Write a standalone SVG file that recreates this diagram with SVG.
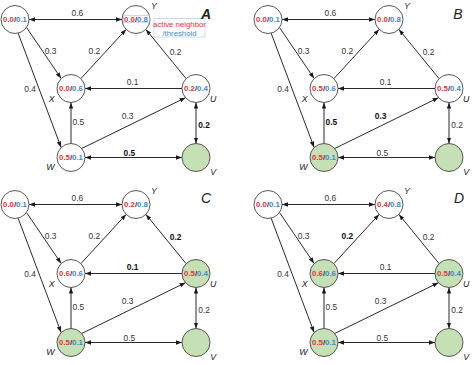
<svg xmlns="http://www.w3.org/2000/svg" width="474" height="365" viewBox="0 0 474 365">
<style>
  .bg{fill:#fff}
  .n{fill:#fff;stroke:#444;stroke-width:0.9}
  .g{fill:#c5e0b4;stroke:#444;stroke-width:0.9}
  .v{font-family:"Liberation Sans",Arial,sans-serif;font-size:7.8px;font-weight:bold;text-anchor:middle;fill:#333}
  .r{fill:#e8303a}
  .b{fill:#3f86c6}
  .e{stroke:#2a2a2a;stroke-width:1;fill:none;marker-end:url(#ah)}
  .e2{stroke:#2a2a2a;stroke-width:1;fill:none;marker-end:url(#ah);marker-start:url(#ah)}
  .w{font-family:"Liberation Sans",Arial,sans-serif;font-size:8.4px;text-anchor:middle;fill:#333}
  .wb{font-weight:bold;fill:#111}
  .lab{font-family:"Liberation Sans",Arial,sans-serif;font-size:8.8px;font-style:italic;text-anchor:middle;fill:#222}
  .pl{font-family:"Liberation Sans",Arial,sans-serif;font-size:14px;font-style:italic;text-anchor:middle;fill:#222}
  .leg{font-family:"Liberation Sans",Arial,sans-serif;font-size:7.8px;text-anchor:middle}
</style>
<defs>
  <marker id="ah" viewBox="0 0 6 4.4" refX="6" refY="2.2" markerWidth="6" markerHeight="4.4" markerUnits="userSpaceOnUse" orient="auto-start-reverse">
    <path d="M0,0 L6,2.2 L0,4.4 z" fill="#1a1a1a"/>
  </marker>
</defs>
<rect class="bg" x="0" y="0" width="474" height="365"/>

<!-- Panel A -->
<g id="panelA">
  <g id="A-edges">
    <path class="e2" d="M29,19.5 H122"/>
    <path class="e" d="M26.5,27.5 L61.1,78.4"/>
    <path class="e" d="M18.1,33.1 L61.1,147.4"/>
    <path class="e" d="M80.9,78.6 L126.1,29.4"/>
    <path class="e" d="M186.1,78.6 L145.9,29.4"/>
    <path class="e" d="M182,88.5 H85"/>
    <path class="e" d="M71,143.5 V102.5"/>
    <path class="e" d="M81.7,148.5 L185.5,97.7"/>
    <path class="e2" d="M196,102.5 V143.5"/>
    <path class="e2" d="M85,157.5 H182"/>
    <text class="w" x="77.3" y="16.3">0.6</text>
    <text class="w" x="50.7" y="53.7">0.3</text>
    <text class="w" x="30" y="92.3">0.4</text>
    <text class="w" x="94.3" y="53.7">0.2</text>
    <text class="w" x="175.7" y="54.7">0.2</text>
    <text class="w" x="132.7" y="84.7">0.1</text>
    <text class="w" x="78.3" y="124.7">0.5</text>
    <text class="w" x="127.7" y="119">0.3</text>
    <text class="w wb" x="204" y="128">0.2</text>
    <text class="w wb" x="129.3" y="155.7">0.5</text>
  </g>
  <g id="A-Z"><circle class="n" cx="15" cy="19.5" r="14"/><text class="v" x="15" y="22.3"><tspan class="r">0.0</tspan>/<tspan class="b">0.1</tspan></text></g>
  <g id="A-Y"><circle class="n" cx="136" cy="19.5" r="14"/><text class="v" x="136" y="22.3"><tspan class="r">0.0</tspan>/<tspan class="b">0.8</tspan></text><text class="lab" x="154" y="9">Y</text></g>
  <g id="A-X"><circle class="n" cx="71" cy="88.5" r="14"/><text class="v" x="71" y="91.3"><tspan class="r">0.0</tspan>/<tspan class="b">0.6</tspan></text><text class="lab" x="51.7" y="102">X</text></g>
  <g id="A-U"><circle class="n" cx="196" cy="88.5" r="14"/><text class="v" x="196" y="91.3"><tspan class="r">0.2</tspan>/<tspan class="b">0.4</tspan></text><text class="lab" x="213.3" y="102">U</text></g>
  <g id="A-W"><circle class="n" cx="71" cy="157.5" r="14"/><text class="v" x="71" y="160.3"><tspan class="r">0.5</tspan>/<tspan class="b">0.1</tspan></text><text class="lab" x="50.5" y="170">W</text></g>
  <g id="A-V"><circle class="g" cx="196" cy="157.5" r="14"/><text class="lab" x="213.3" y="174.5">V</text></g>
  <g id="A-legend">
    <rect x="123.3" y="15.5" width="26" height="7" fill="none" stroke="#a8c2e6" stroke-width="0.6"/>
    <rect x="154" y="18.5" width="51" height="18.5" fill="none" stroke="#a8c2e6" stroke-width="0.6"/>
    <text class="leg r" x="179.5" y="26.5">active neighbor</text>
    <text class="leg b" x="179.5" y="35.5">/threshold</text>
  </g>
  <text class="pl" x="206" y="19" font-weight="bold">A</text>
</g>

<!-- Panel B -->
<g id="panelB" transform="translate(253,0)">
  <g id="B-edges">
    <path class="e2" d="M29,19.5 H122"/>
    <path class="e" d="M26.5,27.5 L61.1,78.4"/>
    <path class="e" d="M18.1,33.1 L61.1,147.4"/>
    <path class="e" d="M80.9,78.6 L126.1,29.4"/>
    <path class="e" d="M186.1,78.6 L145.9,29.4"/>
    <path class="e" d="M182,88.5 H85"/>
    <path class="e" d="M71,143.5 V102.5"/>
    <path class="e" d="M81.7,148.5 L185.5,97.7"/>
    <path class="e2" d="M196,102.5 V143.5"/>
    <path class="e2" d="M85,157.5 H182"/>
    <text class="w" x="77.3" y="16.3">0.6</text>
    <text class="w" x="50.7" y="53.7">0.3</text>
    <text class="w" x="30" y="92.3">0.4</text>
    <text class="w" x="94.3" y="53.7">0.2</text>
    <text class="w" x="175.7" y="54.7">0.2</text>
    <text class="w" x="132.7" y="84.7">0.1</text>
    <text class="w wb" x="78.3" y="124.7">0.5</text>
    <text class="w wb" x="127.7" y="119">0.3</text>
    <text class="w" x="204" y="128">0.2</text>
    <text class="w" x="129.3" y="155.7">0.5</text>
  </g>
  <g id="B-Z"><circle class="n" cx="15" cy="19.5" r="14"/><text class="v" x="15" y="22.3"><tspan class="r">0.0</tspan>/<tspan class="b">0.1</tspan></text></g>
  <g id="B-Y"><circle class="n" cx="136" cy="19.5" r="14"/><text class="v" x="136" y="22.3"><tspan class="r">0.0</tspan>/<tspan class="b">0.8</tspan></text><text class="lab" x="154" y="9">Y</text></g>
  <g id="B-X"><circle class="n" cx="71" cy="88.5" r="14"/><text class="v" x="71" y="91.3"><tspan class="r">0.5</tspan>/<tspan class="b">0.6</tspan></text><text class="lab" x="51.7" y="102">X</text></g>
  <g id="B-U"><circle class="n" cx="196" cy="88.5" r="14"/><text class="v" x="196" y="91.3"><tspan class="r">0.5</tspan>/<tspan class="b">0.4</tspan></text><text class="lab" x="213.3" y="102">U</text></g>
  <g id="B-W"><circle class="g" cx="71" cy="157.5" r="14"/><text class="v" x="71" y="160.3"><tspan class="r">0.5</tspan>/<tspan class="b">0.1</tspan></text><text class="lab" x="50.5" y="170">W</text></g>
  <g id="B-V"><circle class="g" cx="196" cy="157.5" r="14"/><text class="lab" x="213.3" y="174.5">V</text></g>
  <text class="pl" x="205" y="19">B</text>
</g>

<!-- Panel C -->
<g id="panelC" transform="translate(0,185)">
  <g id="C-edges">
    <path class="e2" d="M29,19.5 H122"/>
    <path class="e" d="M26.5,27.5 L61.1,78.4"/>
    <path class="e" d="M18.1,33.1 L61.1,147.4"/>
    <path class="e" d="M80.9,78.6 L126.1,29.4"/>
    <path class="e" d="M186.1,78.6 L145.9,29.4"/>
    <path class="e" d="M182,88.5 H85"/>
    <path class="e" d="M71,143.5 V102.5"/>
    <path class="e" d="M81.7,148.5 L185.5,97.7"/>
    <path class="e2" d="M196,102.5 V143.5"/>
    <path class="e2" d="M85,157.5 H182"/>
    <text class="w" x="77.3" y="16.3">0.6</text>
    <text class="w" x="50.7" y="53.7">0.3</text>
    <text class="w" x="30" y="92.3">0.4</text>
    <text class="w" x="94.3" y="53.7">0.2</text>
    <text class="w wb" x="175.7" y="54.7">0.2</text>
    <text class="w wb" x="132.7" y="84.7">0.1</text>
    <text class="w" x="78.3" y="124.7">0.5</text>
    <text class="w" x="127.7" y="119">0.3</text>
    <text class="w" x="204" y="128">0.2</text>
    <text class="w" x="129.3" y="155.7">0.5</text>
  </g>
  <g id="C-Z"><circle class="n" cx="15" cy="19.5" r="14"/><text class="v" x="15" y="22.3"><tspan class="r">0.0</tspan>/<tspan class="b">0.1</tspan></text></g>
  <g id="C-Y"><circle class="n" cx="136" cy="19.5" r="14"/><text class="v" x="136" y="22.3"><tspan class="r">0.2</tspan>/<tspan class="b">0.8</tspan></text><text class="lab" x="154" y="9">Y</text></g>
  <g id="C-X"><circle class="n" cx="71" cy="88.5" r="14"/><text class="v" x="71" y="91.3"><tspan class="r">0.6</tspan>/<tspan class="b">0.6</tspan></text><text class="lab" x="51.7" y="102">X</text></g>
  <g id="C-U"><circle class="g" cx="196" cy="88.5" r="14"/><text class="v" x="196" y="91.3"><tspan class="r">0.5</tspan>/<tspan class="b">0.4</tspan></text><text class="lab" x="213.3" y="102">U</text></g>
  <g id="C-W"><circle class="g" cx="71" cy="157.5" r="14"/><text class="v" x="71" y="160.3"><tspan class="r">0.5</tspan>/<tspan class="b">0.1</tspan></text><text class="lab" x="50.5" y="170">W</text></g>
  <g id="C-V"><circle class="g" cx="196" cy="157.5" r="14"/><text class="lab" x="213.3" y="174.5">V</text></g>
  <text class="pl" x="206" y="18">C</text>
</g>

<!-- Panel D -->
<g id="panelD" transform="translate(253,185)">
  <g id="D-edges">
    <path class="e2" d="M29,19.5 H122"/>
    <path class="e" d="M26.5,27.5 L61.1,78.4"/>
    <path class="e" d="M18.1,33.1 L61.1,147.4"/>
    <path class="e" d="M80.9,78.6 L126.1,29.4"/>
    <path class="e" d="M186.1,78.6 L145.9,29.4"/>
    <path class="e" d="M182,88.5 H85"/>
    <path class="e" d="M71,143.5 V102.5"/>
    <path class="e" d="M81.7,148.5 L185.5,97.7"/>
    <path class="e2" d="M196,102.5 V143.5"/>
    <path class="e2" d="M85,157.5 H182"/>
    <text class="w" x="77.3" y="16.3">0.6</text>
    <text class="w" x="50.7" y="53.7">0.3</text>
    <text class="w" x="30" y="92.3">0.4</text>
    <text class="w wb" x="94.3" y="53.7">0.2</text>
    <text class="w" x="175.7" y="54.7">0.2</text>
    <text class="w" x="132.7" y="84.7">0.1</text>
    <text class="w" x="78.3" y="124.7">0.5</text>
    <text class="w" x="127.7" y="119">0.3</text>
    <text class="w" x="204" y="128">0.2</text>
    <text class="w" x="129.3" y="155.7">0.5</text>
  </g>
  <g id="D-Z"><circle class="n" cx="15" cy="19.5" r="14"/><text class="v" x="15" y="22.3"><tspan class="r">0.0</tspan>/<tspan class="b">0.1</tspan></text></g>
  <g id="D-Y"><circle class="n" cx="136" cy="19.5" r="14"/><text class="v" x="136" y="22.3"><tspan class="r">0.4</tspan>/<tspan class="b">0.8</tspan></text><text class="lab" x="154" y="9">Y</text></g>
  <g id="D-X"><circle class="g" cx="71" cy="88.5" r="14"/><text class="v" x="71" y="91.3"><tspan class="r">0.6</tspan>/<tspan class="b">0.6</tspan></text><text class="lab" x="51.7" y="102">X</text></g>
  <g id="D-U"><circle class="g" cx="196" cy="88.5" r="14"/><text class="v" x="196" y="91.3"><tspan class="r">0.5</tspan>/<tspan class="b">0.4</tspan></text><text class="lab" x="213.3" y="102">U</text></g>
  <g id="D-W"><circle class="g" cx="71" cy="157.5" r="14"/><text class="v" x="71" y="160.3"><tspan class="r">0.5</tspan>/<tspan class="b">0.1</tspan></text><text class="lab" x="50.5" y="170">W</text></g>
  <g id="D-V"><circle class="g" cx="196" cy="157.5" r="14"/><text class="lab" x="213.3" y="174.5">V</text></g>
  <text class="pl" x="206" y="18">D</text>
</g>
</svg>
